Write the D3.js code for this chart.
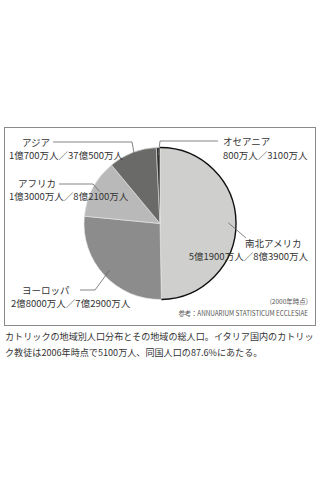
<!DOCTYPE html>
<html>
<head>
<meta charset="utf-8">
<script src="https://cdn.jsdelivr.net/npm/d3@7/dist/d3.min.js"></script>
<style>
  html, body { margin: 0; padding: 0; background: #fff; }
  text { font-family: "Noto Sans CJK JP", "Noto Sans", sans-serif; fill: #333; }
</style>
</head>
<body>
<div id="chart"></div>
<script>
// catholic population by region (万人) and total population of region
var regions   = ["南北アメリカ", "ヨーロッパ", "アフリカ", "アジア", "オセアニア"];
var catholics = [51900, 28000, 13000, 10700, 800];
var numLabels = ["5億1900万人／8億3900万人", "2億8000万人／7億2900万人",
                 "1億3000万人／8億2100万人", "1億700万人／37億500万人", "800万人／3100万人"];
var colors    = ["#cfd0cd", "#8c8c8c", "#b9b9b9", "#6a6a68", "#2f2f2f"];

var width = 320, height = 480;
var cx = 160, cy = 223.5, radius = 76;

// label layout: name position, numbers position, elbow of leader line
var layout = [
  {nx: 245, ny: 246.5, vx: 308, vy: 259.5, anchor: "end",   path: [[246, 238]]},
  {nx: 22,  ny: 293.5, vx: 11,  vy: 306.5, anchor: "start", path: [[95, 290], [80, 290]]},
  {nx: 18,  ny: 186.5, vx: 9,   vy: 199.5, anchor: "start", path: [[93, 184], [59, 184]]},
  {nx: 22,  ny: 145.5, vx: 9,   vy: 158.5, anchor: "start", path: [[132, 142], [53, 142]]},
  {nx: 223, ny: 144.5, vx: 223, vy: 158.5, anchor: "start", path: [[160, 141], [218, 141]]}
];

var svg = d3.select("#chart").append("svg")
    .attr("width", width)
    .attr("height", height);

// frame
svg.append("rect")
    .attr("x", 4.5).attr("y", 127.5)
    .attr("width", 311).attr("height", 198)
    .attr("fill", "none")
    .attr("stroke", "#8a8a8a")
    .attr("stroke-width", 1);

var pie = d3.pie().sort(null).value(function(d) { return d; });
var arcs = pie(catholics);

var arc = d3.arc().innerRadius(0).outerRadius(radius);
var inner = d3.arc().innerRadius(radius * 0.9).outerRadius(radius * 0.9);

var g = svg.append("g").attr("transform", "translate(" + cx + "," + cy + ")");

g.selectAll("path.slice")
    .data(arcs)
  .enter().append("path")
    .attr("class", "slice")
    .attr("d", arc)
    .attr("fill", function(d, i) { return colors[i]; })
    .attr("stroke", "#e8e8e8")
    .attr("stroke-width", 0.6);

// black outline along the americas arc
var outline = d3.arc().innerRadius(radius).outerRadius(radius);
g.append("path")
    .attr("d", outline(arcs[0]))
    .attr("fill", "none")
    .attr("stroke", "#111")
    .attr("stroke-width", 1.4);

// leader lines
var line = d3.line();
arcs.forEach(function(d, i) {
  var c = inner.centroid(d);
  var pts = [[c[0] + cx, c[1] + cy]].concat(layout[i].path);
  svg.append("path")
      .attr("d", line(pts))
      .attr("fill", "none")
      .attr("stroke", "#666")
      .attr("stroke-width", 0.8);
});

// labels
regions.forEach(function(name, i) {
  var l = layout[i];
  svg.append("text")
      .attr("x", l.nx)
      .attr("y", l.ny)
      .attr("font-size", 9.5)
      .text(name);
  svg.append("text")
      .attr("x", l.vx)
      .attr("y", l.vy)
      .attr("text-anchor", l.anchor)
      .attr("font-size", 9.5)
      .text(numLabels[i]);
});

// source notes
svg.append("text")
    .attr("x", 308).attr("y", 304)
    .attr("text-anchor", "end")
    .attr("font-size", 6.5)
    .style("fill", "#555")
    .text("(2000年時点)");

// condensed source line, squeezed horizontally to fit 130px
var src = svg.append("g");
var srcText = src.append("text")
    .attr("x", 0).attr("y", 0)
    .attr("text-anchor", "end")
    .attr("font-size", 7)
    .style("fill", "#555")
    .text("参考：ANNUARIUM STATISTICUM ECCLESIAE");
var sw = srcText.node().getComputedTextLength();
var sx = Math.min(1, 130 / sw);
src.attr("transform", "translate(308,315.5) scale(" + sx + ",1)");

// caption
svg.append("text")
    .attr("x", 5).attr("y", 339.5)
    .attr("font-size", 9.1)
    .text("カトリックの地域別人口分布とその地域の総人口。イタリア国内のカトリッ");

svg.append("text")
    .attr("x", 5).attr("y", 355.5)
    .attr("font-size", 9.1)
    .text("ク教徒は2006年時点で5100万人、同国人口の87.6%にあたる。");
</script>
</body>
</html>
